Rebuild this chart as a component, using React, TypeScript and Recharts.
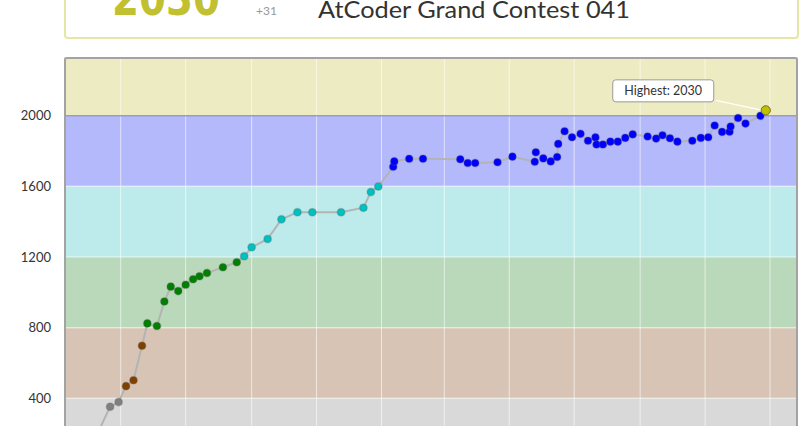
import {
  LineChart,
  Line,
  XAxis,
  YAxis,
  ReferenceArea,
  ReferenceLine,
} from "recharts";

// contest dates and rating after each contest
const contestDates = [
  "2018-04-08", "2018-04-21", "2018-04-29", "2018-05-06", "2018-05-13",
  "2018-05-21", "2018-05-26", "2018-06-04", "2018-06-11", "2018-06-17",
  "2018-06-24", "2018-07-01", "2018-07-08", "2018-07-14", "2018-07-21",
  "2018-08-05", "2018-08-18", "2018-08-25", "2018-09-01", "2018-09-16",
  "2018-09-29", "2018-10-14", "2018-10-28", "2018-11-24", "2018-12-15",
  "2018-12-22", "2018-12-29", "2019-01-12", "2019-01-13", "2019-01-27",
  "2019-02-09", "2019-03-16", "2019-03-23", "2019-03-30", "2019-04-20",
  "2019-05-04", "2019-05-25", "2019-05-26", "2019-06-02", "2019-06-09",
  "2019-06-15", "2019-06-16", "2019-06-22", "2019-06-29", "2019-07-07",
  "2019-07-14", "2019-07-21", "2019-07-22", "2019-07-28", "2019-08-04",
  "2019-08-11", "2019-08-18", "2019-08-25", "2019-09-08", "2019-09-16",
  "2019-09-22", "2019-09-29", "2019-10-06", "2019-10-20", "2019-10-28",
  "2019-11-04", "2019-11-10", "2019-11-17", "2019-11-24", "2019-11-25",
  "2019-12-02", "2019-12-09", "2019-12-23", "2019-12-28",
];

const ratings = [
  186, 352, 379, 469, 502, 698, 824, 809, 948, 1032,
  1007, 1043, 1074, 1091, 1109, 1142, 1170, 1204, 1255, 1302,
  1413, 1453, 1453, 1453, 1479, 1568, 1599, 1711, 1741, 1756,
  1756, 1753, 1732, 1732, 1736, 1768, 1739, 1793, 1758, 1741,
  1766, 1840, 1912, 1878, 1897, 1858, 1877, 1837, 1837, 1853,
  1853, 1874, 1894, 1882, 1870, 1889, 1872, 1853, 1858, 1874,
  1878, 1944, 1908, 1909, 1939, 1987, 1955, 1999, 2030,
];

const monthTicks = [
  "2018-05-01", "2018-07-01", "2018-09-01", "2018-11-01", "2019-01-01",
  "2019-03-01", "2019-05-01", "2019-07-01", "2019-09-01", "2019-11-01",
  "2020-01-01",
];

const ratingTicks = [0, 400, 800, 1200, 1600, 2000];

const bands = [
  { from: 0, to: 400, fill: "#d9d9d9", dot: "#808080" },
  { from: 400, to: 800, fill: "#d8c4b5", dot: "#804000" },
  { from: 800, to: 1200, fill: "#bad8ba", dot: "#008000" },
  { from: 1200, to: 1600, fill: "#bdebeb", dot: "#00c0c0" },
  { from: 1600, to: 2000, fill: "#b3b9fb", dot: "#0000ff" },
  { from: 2000, to: 2400, fill: "#edebc1", dot: "#c0c000" },
];

const toDay = (s: string) => Date.parse(s) / 86400000;

const data = contestDates.map((d, i) => ({ day: toDay(d), rating: ratings[i] }));
const highestIdx = ratings.indexOf(Math.max(...ratings));

// visible window of the graph
const xStart = toDay("2018-05-01") - 53.3;
const xEnd = xStart + 689.6;

const colorOf = (r: number) =>
  (bands.find((b) => r >= b.from && r < b.to) ?? bands[bands.length - 1]).dot;

function RatingDot(props: any) {
  const { cx, cy, payload, index } = props;
  if (cx == null || cy == null) return null;
  if (index !== highestIdx) {
    return (
      <circle
        key={`dot-${index}`}
        cx={cx}
        cy={cy}
        r={3.8}
        fill={colorOf(payload.rating)}
        stroke="rgba(90,90,90,0.25)"
        strokeWidth={1.5}
      />
    );
  }
  return (
    <g key={`dot-${index}`}>
      <line x1={cx - 50} y1={cy - 10} x2={cx - 3} y2={cy} stroke="#ffffff" strokeWidth={1.2} />
      <rect
        x={cx - 153}
        y={cy - 30.5}
        width={101}
        height={22}
        rx={3}
        fill="#ffffff"
        stroke="#999999"
        strokeWidth={1}
      />
      <text
        x={cx - 102.5}
        y={cy - 15}
        textAnchor="middle"
        fontFamily="Lato, 'Open Sans', sans-serif"
        fontSize={12.5}
        fill="#333"
      >
        Highest: {payload.rating}
      </text>
      <circle
        cx={cx}
        cy={cy}
        r={4.6}
        fill="#c0c000"
        stroke="#6f6f20"
        strokeWidth={1}
      />
    </g>
  );
}

export default function App() {
  return (
    <div
      style={{
        position: "absolute",
        left: 0,
        top: 0,
        width: 812,
        height: 426,
        overflow: "hidden",
        background: "#fff",
      }}
    >
      <div
        style={{
          position: "absolute",
          left: 64,
          top: -42,
          width: 735,
          height: 81,
          boxSizing: "border-box",
          border: "2px solid #e6e6a6",
          borderRadius: 4,
          background: "#fff",
        }}
      />
      <svg width={812} height={40} style={{ position: "absolute", left: 0, top: 0 }}>
        <text
          x={112}
          y={15}
          fontFamily="'Liberation Sans Narrow', 'DejaVu Sans Condensed', sans-serif"
          fontWeight="bold"
          fontSize={50}
          fill="#c0c030"
          textLength={108}
          lengthAdjust="spacingAndGlyphs"
        >
          2030
        </text>
        <text x={256} y={15} fontFamily="Lato, sans-serif" fontSize={12} fill="#999">
          +31
        </text>
        <text
          x={318}
          y={18}
          fontFamily="Lato, sans-serif"
          fontSize={24}
          fill="#333"
          textLength={312}
          lengthAdjust="spacingAndGlyphs"
        >
          AtCoder Grand Contest 041
        </text>
      </svg>

      <div style={{ position: "absolute", left: 0, top: 0 }}>
        <LineChart
          width={812}
          height={480}
          data={data}
          margin={{ top: 57, right: 14, bottom: 11, left: 0 }}
        >
          <XAxis
            dataKey="day"
            type="number"
            domain={[xStart, xEnd]}
            allowDataOverflow
            ticks={monthTicks.map(toDay)}
            height={0}
            tick={false}
            axisLine={false}
            tickLine={false}
          />
          <YAxis
            type="number"
            domain={[0, 2332]}
            allowDataOverflow
            ticks={ratingTicks}
            width={64}
            axisLine={false}
            tickLine={false}
            tickSize={0}
            tickMargin={13}
            tick={{ fontSize: 13, fill: "#333", fontFamily: "Lato, sans-serif" }}
          />
          {bands.map((b) => (
            <ReferenceArea
              key={b.from}
              y1={b.from}
              y2={b.to}
              fill={b.fill}
              fillOpacity={1}
              stroke="none"
              ifOverflow="hidden"
            />
          ))}
          {monthTicks.map((t) => (
            <ReferenceLine
              key={t}
              x={toDay(t)}
              stroke="#ffffff"
              strokeOpacity={0.6}
              strokeWidth={1}
            />
          ))}
          {[400, 800, 1200, 1600].map((v) => (
            <ReferenceLine key={v} y={v} stroke="#ffffff" strokeOpacity={0.45} strokeWidth={1.5} />
          ))}
          <ReferenceLine y={2000} stroke="#9a9cc8" strokeWidth={1.5} />
          <Line
            type="linear"
            dataKey="rating"
            stroke="#b4b4b4"
            strokeWidth={2}
            dot={(p: any) => <RatingDot {...p} />}
            activeDot={false}
            isAnimationActive={false}
          />
        </LineChart>
      </div>

      <div
        style={{
          position: "absolute",
          left: 64,
          top: 57,
          width: 734,
          height: 412,
          boxSizing: "border-box",
          border: "2px solid #a3a3a3",
          borderRadius: 3,
          pointerEvents: "none",
        }}
      />
    </div>
  );
}
